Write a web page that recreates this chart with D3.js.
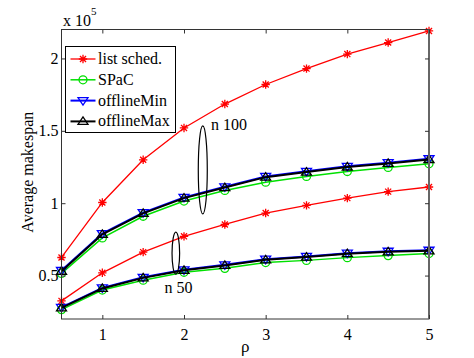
<!DOCTYPE html>
<html><head><meta charset="utf-8">
<script src="https://cdn.jsdelivr.net/npm/d3@7"></script>
<style>body{margin:0;background:#fff}svg{display:block}svg text{font-family:"Liberation Serif","Times New Roman",serif !important;fill:#000}</style>
</head><body><svg id="c" width="474" height="358"></svg>
<script>
const rho = [0.5,1,1.5,2,2.5,3,3.5,4,4.5,5];
const list100 = [0.625,1.005,1.30,1.52,1.685,1.82,1.93,2.03,2.11,2.19];
const spac100 = [0.515,0.76,0.91,1.015,1.088,1.145,1.185,1.219,1.247,1.272];
const min100  = [0.535,0.79,0.935,1.04,1.113,1.185,1.22,1.255,1.28,1.307];
const max100  = [0.53,0.785,0.93,1.035,1.108,1.18,1.215,1.25,1.275,1.302];
const list50  = [0.325,0.519,0.662,0.771,0.853,0.932,0.985,1.035,1.08,1.112];
const spac50  = [0.265,0.40,0.468,0.523,0.55,0.59,0.605,0.624,0.638,0.652];
const min50   = [0.28,0.415,0.488,0.54,0.574,0.613,0.632,0.655,0.668,0.675];
const max50   = [0.277,0.411,0.484,0.536,0.57,0.609,0.628,0.651,0.664,0.671];
const xTicks = [1,2,3,4,5];
const yTicks = [0.5,1,1.5,2];
const seriesNames = ["list sched.","SPaC","offlineMin","offlineMax"];

const FONT = '"Liberation Serif","Times New Roman",serif';
const svg = d3.select("#c");
const L=61.5,R=429,T=29.5,B=319;
const x = d3.scaleLinear().domain([0.5,5]).range([L,R]);
const y = d3.scaleLinear().domain([0.2,2.2]).range([B,T]);
const frame="#333";

const styles = [
  {color:"#ff0000", w:1.3, m:"star"},
  {color:"#00e000", w:1.5, m:"circle"},
  {color:"#0000ff", w:2, m:"down"},
  {color:"#000000", w:2, m:"up"}
];

function marker(g, type, cx, cy, color){
  if(type==="star"){
    const r=4.2, d=r*0.72;
    g.append("path").attr("d",`M${cx-r},${cy}H${cx+r}M${cx},${cy-r}V${cy+r}M${cx-d},${cy-d}L${cx+d},${cy+d}M${cx-d},${cy+d}L${cx+d},${cy-d}`)
      .attr("stroke",color).attr("stroke-width",1.3).attr("fill","none");
  } else if(type==="circle"){
    g.append("circle").attr("cx",cx).attr("cy",cy).attr("r",4).attr("stroke",color).attr("stroke-width",1.3).attr("fill","none");
  } else if(type==="down"){
    const s=5;
    g.append("path").attr("d",`M${cx-s},${cy-s*0.6}L${cx+s},${cy-s*0.6}L${cx},${cy+s*0.9}Z`).attr("stroke",color).attr("stroke-width",1.3).attr("fill","none");
  } else {
    const s=5;
    g.append("path").attr("d",`M${cx-s},${cy+s*0.6}L${cx+s},${cy+s*0.6}L${cx},${cy-s*0.9}Z`).attr("stroke",color).attr("stroke-width",1.3).attr("fill","none");
  }
}

const line = d3.line().x((d,i)=>x(rho[i])).y(d=>y(d));
const groups = [[list100,spac100,min100,max100],[list50,spac50,min50,max50]];
const plot = svg.append("g");
groups.forEach(grp=>{
  grp.forEach((vals,k)=>{
    const st=styles[k];
    plot.append("path").datum(vals).attr("d",line).attr("fill","none").attr("stroke",st.color).attr("stroke-width",st.w);
    vals.forEach((v,i)=>marker(plot,st.m,x(rho[i]),y(v),st.color));
  });
});

// frame
svg.append("rect").attr("x",L).attr("y",T).attr("width",R-L).attr("height",B-T).attr("fill","none").attr("stroke",frame).attr("stroke-width",1);
svg.append("line").attr("x1",R).attr("x2",R).attr("y1",T).attr("y2",B).attr("stroke","#666").attr("stroke-width",2);

// axes
const xa = svg.append("g").attr("transform",`translate(0,${B})`).call(d3.axisBottom(x).tickValues(xTicks).tickSize(-4).tickPadding(10).tickFormat(d3.format("d")));
const xt = svg.append("g").attr("transform",`translate(0,${T})`).call(d3.axisTop(x).tickValues(xTicks).tickSize(-4).tickFormat(""));
const ya = svg.append("g").attr("transform",`translate(${L},0)`).call(d3.axisLeft(y).tickValues(yTicks).tickSize(-4).tickPadding(3).tickFormat(d=>String(d)));
const yr = svg.append("g").attr("transform",`translate(${R},0)`).call(d3.axisRight(y).tickValues(yTicks).tickSize(-4).tickFormat(""));
[xa,xt,ya,yr].forEach(a=>{a.attr("font-family",FONT).attr("font-size",16); a.select(".domain").remove(); a.selectAll("line").attr("stroke",frame);
  a.selectAll("text").attr("fill","#000");});

// labels
const sup = svg.append("text").attr("x",63).attr("y",26).attr("font-family",FONT).attr("font-size",16);
sup.append("tspan").text("x 10");
sup.append("tspan").attr("dy",-11).attr("font-size",11).text("5");
svg.append("text").attr("transform",`translate(33,${(T+B)/2-2}) rotate(-90)`).attr("text-anchor","middle").attr("font-family",FONT).attr("font-size",16).text("Average makespan");
svg.append("text").attr("x",(L+R)/2).attr("y",352).attr("text-anchor","middle").attr("font-family",FONT).attr("font-size",17).text("ρ");

// ellipses
svg.append("ellipse").attr("cx",x(2.23)).attr("cy",y(1.23)).attr("rx",4.5).attr("ry",44).attr("fill","none").attr("stroke","#000").attr("stroke-width",1.2);
svg.append("text").attr("x",211).attr("y",130).attr("font-family",FONT).attr("font-size",16).text("n 100");
svg.append("ellipse").attr("cx",x(1.9)).attr("cy",y(0.655)).attr("rx",3.8).attr("ry",21).attr("fill","none").attr("stroke","#000").attr("stroke-width",1.2);
svg.append("text").attr("x",164.5).attr("y",293).attr("font-family",FONT).attr("font-size",16).text("n 50");

// legend
const lg = svg.append("g");
lg.append("rect").attr("x",65.5).attr("y",46.5).attr("width",110).attr("height",86).attr("fill","#fff").attr("stroke","#000").attr("stroke-width",1);
seriesNames.forEach((n,k)=>{
  const yy = 59 + k*20.8, st=styles[k];
  lg.append("line").attr("x1",70.5).attr("x2",95.5).attr("y1",yy).attr("y2",yy).attr("stroke",st.color).attr("stroke-width",st.w);
  marker(lg,st.m,83,yy,st.color);
  lg.append("text").attr("x",98).attr("y",yy+5).attr("font-family",FONT).attr("font-size",16).text(n);
});
</script></body></html>
